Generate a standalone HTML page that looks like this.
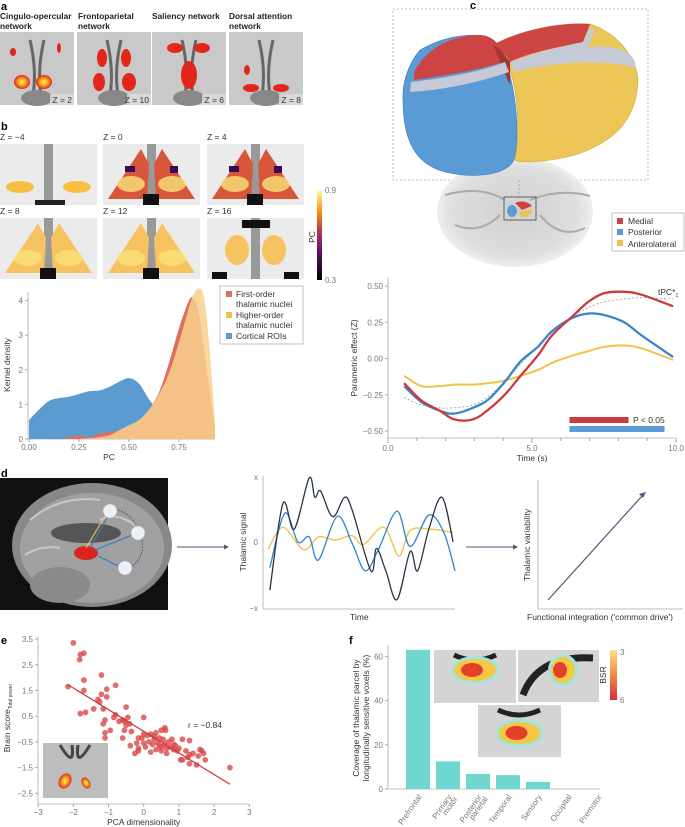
<!DOCTYPE html>
<html><head><meta charset="utf-8">
<style>
html,body{margin:0;padding:0;background:#fff;}
svg{display:block;font-family:"Liberation Sans",sans-serif;}
.t{font-size:8px;fill:#777;}
.lab{font-size:8.5px;fill:#333;}
.pl{font-size:11px;font-weight:bold;fill:#000;}
.ttl{font-size:8.3px;font-weight:bold;fill:#222;}
</style></head><body>
<svg id="fig" width="685" height="827" viewBox="0 0 685 827" xmlns="http://www.w3.org/2000/svg">
<defs>
<linearGradient id="pcbar" x1="0" y1="1" x2="0" y2="0"><stop offset="0" stop-color="#000004"/><stop offset="0.3" stop-color="#56106e"/><stop offset="0.55" stop-color="#bb3754"/><stop offset="0.75" stop-color="#f98e09"/><stop offset="1" stop-color="#fcffa4"/></linearGradient>
<linearGradient id="bsr" x1="0" y1="0" x2="0" y2="1"><stop offset="0" stop-color="#fde08a"/><stop offset="0.5" stop-color="#f08a40"/><stop offset="1" stop-color="#d9303a"/></linearGradient>
<radialGradient id="hot"><stop offset="0" stop-color="#fff36a"/><stop offset="0.5" stop-color="#f7a21c"/><stop offset="1" stop-color="#e3261b"/></radialGradient>
<radialGradient id="brain"><stop offset="0" stop-color="#d0d0d0"/><stop offset="0.8" stop-color="#dedede"/><stop offset="1" stop-color="#eeeeee"/></radialGradient>
</defs>

<!-- Panel a -->
<g>
<text class="pl" x="1" y="10">a</text>
<text class="ttl" x="0" y="19">Cingulo-opercular</text>
<text class="ttl" x="0" y="29">network</text>
<text class="ttl" x="78" y="19">Frontoparietal</text>
<text class="ttl" x="78" y="29">network</text>
<text class="ttl" x="152" y="19">Saliency network</text>
<text class="ttl" x="229" y="19">Dorsal attention</text>
<text class="ttl" x="229" y="29">network</text>
<g id="aimgs"></g>
</g>

<!-- Panel b -->
<g>
<text class="pl" x="1" y="130">b</text>
<g id="bimgs"></g>
<rect x="317" y="190" width="5" height="90" fill="url(#pcbar)"/>
<text class="t" x="325" y="193">0.9</text><text class="t" x="325" y="283">0.3</text>
<text class="lab" transform="translate(315,237) rotate(-90)" text-anchor="middle">PC</text>
<g id="density"></g>
</g>

<!-- Panel c -->
<g>
<text class="pl" x="470" y="9">c</text>
<rect x="393" y="9" width="255" height="171" fill="none" stroke="#aaa" stroke-dasharray="2,2" stroke-width="0.8"/>
<ellipse cx="515" cy="212" rx="78" ry="55" fill="url(#brain)"/>
<path d="M445,195 Q480,185 505,200 M530,200 Q560,188 590,196 M455,225 Q480,235 500,215 M540,215 Q560,240 585,228" stroke="#aaa" stroke-width="2" fill="none"/>
<line x1="519" y1="180" x2="519" y2="197" stroke="#999" stroke-dasharray="2,2" stroke-width="0.8"/>
<rect x="504" y="197" width="32" height="23" fill="none" stroke="#444" stroke-width="0.8"/>
<ellipse cx="512" cy="211" rx="5" ry="6" fill="#5b9bd5"/>
<path d="M515,203 Q525,199 532,206 L522,210 Z" fill="#cc4040"/>
<path d="M519,212 L533,209 Q530,218 521,217 Z" fill="#ecc34e"/>
<g>
<path d="M403,100 C402,80 410,62 420,50 C440,38 465,33 485,36 C500,40 505,55 510,75 C516,100 520,135 514,160 C505,177 470,178 445,172 C415,164 403,140 403,100 Z" fill="#5b9bd5" stroke="#3a7ab8" stroke-width="0.6"/>
<path d="M493,45 C520,30 560,22 590,24 C615,32 636,55 638,80 C637,115 620,140 575,155 C545,163 520,163 515,160 C520,130 518,95 510,70 Z" fill="#ecc34e" stroke="#c9a030" stroke-width="0.6" opacity="0.95"/>
<path d="M414,72 C425,50 450,35 480,35 C497,36 502,50 503,62 C480,70 448,75 414,80 Z" fill="#cc4444"/>
<path d="M493,45 C520,30 560,22 590,24 L583,42 C560,47 530,52 510,62 C507,55 500,50 493,45 Z" fill="#cc4444"/>
<path d="M493,45 C500,48 505,55 510,62 L510,85 C505,75 500,60 493,45 Z" fill="#a33535"/>
<path d="M411,82 C445,78 480,72 505,62 L509,72 C480,82 445,90 410,92 Z" fill="#c6cad6"/>
<path d="M510,62 C535,52 560,47 583,42 L590,28 L595,30 L588,47 C610,45 630,48 635,62 L636,68 C610,60 560,60 515,72 Z" fill="#c6cad6"/>
</g>
<rect x="612" y="213" width="72" height="38" fill="#fff" stroke="#999" stroke-width="0.6"/>
<rect x="617" y="218" width="6" height="6" fill="#cc4444"/><text class="lab" x="628" y="224">Medial</text>
<rect x="617" y="229" width="6" height="6" fill="#5b9bd5"/><text class="lab" x="628" y="235">Posterior</text>
<rect x="617" y="240" width="6" height="6" fill="#ecc34e"/><text class="lab" x="628" y="247">Anterolateral</text>
<g id="cline"></g>
</g>

<!-- Panel d -->
<g>
<text class="pl" x="1" y="477">d</text>
<rect x="0" y="478" width="168" height="132" fill="#111"/>
<ellipse cx="92" cy="545" rx="80" ry="62" fill="#888"/>
<ellipse cx="92" cy="548" rx="72" ry="55" fill="#a0a0a0"/>
<ellipse cx="86" cy="533" rx="35" ry="10" fill="#555"/>
<ellipse cx="60" cy="585" rx="30" ry="18" fill="#8a8a8a"/>
<path d="M30,520 Q60,495 100,500 M25,555 Q40,545 60,548 M100,520 Q120,510 140,530" stroke="#c8c8c8" stroke-width="2" fill="none"/>
<ellipse cx="86" cy="553" rx="12" ry="7" fill="#d9241c"/>
<g stroke="#2f7fc4" stroke-width="1.2"><line x1="90" y1="548" x2="108" y2="516"/><line x1="95" y1="550" x2="132" y2="535"/><line x1="98" y1="556" x2="118" y2="566"/></g>
<line x1="86" y1="548" x2="105" y2="516" stroke="#f0c040" stroke-width="1.2"/>
<path d="M118,510 Q132,515 136,526 M142,540 Q145,558 130,568" stroke="#50628c" stroke-width="1" fill="none" stroke-dasharray="2,1"/>
<circle cx="110" cy="511" r="7" fill="#eef0f8" stroke="#aab" stroke-width="0.6"/>
<circle cx="138" cy="533" r="7" fill="#eef0f8" stroke="#aab" stroke-width="0.6"/>
<circle cx="125" cy="568" r="7" fill="#eef0f8" stroke="#aab" stroke-width="0.6"/>
<line x1="177" y1="547" x2="226" y2="547" stroke="#4a5a78" stroke-width="1"/><path d="M229,547 l-5,-2.5 v5z" fill="#4a5a78"/>
<line x1="466" y1="547" x2="514" y2="547" stroke="#4a5a78" stroke-width="1"/><path d="M518,547 l-5,-2.5 v5z" fill="#4a5a78"/>
<g id="dsig"></g>
<line x1="538" y1="480" x2="538" y2="609" stroke="#aaa" stroke-width="0.8"/>
<line x1="538" y1="609" x2="683" y2="609" stroke="#aaa" stroke-width="0.8"/>
<text class="lab" transform="translate(530,545) rotate(-90)" text-anchor="middle">Thalamic variability</text>
<text class="lab" x="527" y="620">Functional integration ('common drive')</text>
<line x1="548" y1="600" x2="642" y2="496" stroke="#4a5a78" stroke-width="1.2"/><path d="M646,492 l-7,2 l4,4z" fill="#4a5a78"/>
</g>

<!-- Panel e -->
<g>
<text class="pl" x="1" y="644">e</text>
<g id="scatter"></g>
</g>

<!-- Panel f -->
<g>
<text class="pl" x="349" y="644">f</text>
<g id="bars"></g>
<rect x="610" y="650" width="7" height="50" fill="url(#bsr)"/>
<text class="t" x="620" y="655">3</text><text class="t" x="620" y="703">6</text>
<text class="lab" transform="translate(606,675) rotate(-90)" text-anchor="middle">BSR</text>
</g>
</svg>
<script>
const NS='http://www.w3.org/2000/svg';
function mk(p,tag,at){const e=document.createElementNS(NS,tag);for(const k in at)e.setAttribute(k,at[k]);p.appendChild(e);return e;}
function txt(p,x,y,s,cls,anchor){const e=mk(p,'text',{x:x,y:y,class:cls||'t'});if(anchor)e.setAttribute('text-anchor',anchor);e.textContent=s;return e;}
function smooth(pts){let d='M'+pts[0][0]+','+pts[0][1];for(let i=0;i<pts.length-1;i++){const p0=pts[Math.max(0,i-1)],p1=pts[i],p2=pts[i+1],p3=pts[Math.min(pts.length-1,i+2)];d+=' C'+(p1[0]+(p2[0]-p0[0])/6)+','+(p1[1]+(p2[1]-p0[1])/6)+' '+(p2[0]-(p3[0]-p1[0])/6)+','+(p2[1]-(p3[1]-p1[1])/6)+' '+p2[0]+','+p2[1];}return d;}

/* ---------- panel a images ---------- */
const aImgX=[0,77,152,229], aZ=['Z = 2','Z = 10','Z = 6','Z = 8'];
const ga=document.getElementById('aimgs');
aImgX.forEach((x,i)=>{
 const g=mk(ga,'g',{});
 
 
 mk(g,'rect',{x:x,y:32,width:74,height:73,fill:'#c9c9c9'});
 mk(g,'path',{d:`M${x+30},40 Q${x+37},70 ${x+33},95 M${x+44},40 Q${x+37},70 ${x+41},95`,stroke:'#666','stroke-width':3,fill:'none'});
 mk(g,'ellipse',{cx:x+37,cy:98,rx:16,ry:8,fill:'#888'});
 const blobs=[[[x+22,82,8,7],[x+44,82,8,7],[x+13,52,3,4],[x+59,48,2,5]],[[x+25,58,5,9],[x+49,58,5,9],[x+22,82,6,9],[x+52,82,7,9]],[[x+23,48,8,5],[x+50,48,8,5],[x+37,75,8,14]],[[x+18,70,3,5],[x+22,88,8,4],[x+52,88,8,4]]][i];
 blobs.forEach(b=>mk(g,'ellipse',{cx:b[0],cy:b[1],rx:b[2],ry:b[3],fill:(i==0&&b[2]>6)?'url(#hot)':'#e3261b'}));
 mk(g,'rect',{x:x+50,y:94,width:24,height:11,fill:'#ddd',opacity:0.8});
 txt(g,x+72,103,aZ[i],'lab','end');
});

/* ---------- panel b images ---------- */
const bImgX=[0,103,207], bImgY=[144,218], bZ=['Z = −4','Z = 0','Z = 4','Z = 8','Z = 12','Z = 16'];
const gb=document.getElementById('bimgs');
bZ.forEach((z,i)=>{
 const x=bImgX[i%3], y=bImgY[Math.floor(i/3)];
 const g=mk(gb,'g',{});
 
 
 txt(g,x,y-4,z,'lab');
 mk(g,'rect',{x:x,y:y,width:97,height:61,fill:'#ebebeb'});
 mk(g,'rect',{x:x+44,y:y,width:9,height:61,fill:'#999'});
 if(i===0){mk(g,'ellipse',{cx:x+20,cy:y+43,rx:14,ry:6,fill:'#f8c040'});mk(g,'ellipse',{cx:x+77,cy:y+43,rx:14,ry:6,fill:'#f8c040'});mk(g,'rect',{x:x+35,y:y+56,width:30,height:5,fill:'#222'});}
 else if(i<5){const c=i<3?'#d8563a':'#f6c360';
  mk(g,'path',{d:`M${x+5},${y+55} L${x+38},${y+5} L${x+46},${y+20} L${x+44},${y+55} Z`,fill:c});
  mk(g,'path',{d:`M${x+92},${y+55} L${x+59},${y+5} L${x+51},${y+20} L${x+53},${y+55} Z`,fill:c});
  mk(g,'ellipse',{cx:x+28,cy:y+40,rx:14,ry:8,fill:'#fbe27a',opacity:0.8});mk(g,'ellipse',{cx:x+69,cy:y+40,rx:14,ry:8,fill:'#fbe27a',opacity:0.8});
  if(i<3){mk(g,'rect',{x:x+22,y:y+22,width:10,height:6,fill:'#3a0a50'});mk(g,'rect',{x:x+67,y:y+22,width:8,height:7,fill:'#3a0a50'});}
  mk(g,'rect',{x:x+40,y:y+50,width:16,height:11,fill:'#111'});}
 else{mk(g,'ellipse',{cx:x+30,cy:y+32,rx:12,ry:15,fill:'#f6c360'});mk(g,'ellipse',{cx:x+67,cy:y+32,rx:12,ry:15,fill:'#f6c360'});mk(g,'rect',{x:x+35,y:y+2,width:28,height:8,fill:'#111'});mk(g,'rect',{x:x+5,y:y+54,width:15,height:7,fill:'#111'});mk(g,'rect',{x:x+77,y:y+54,width:15,height:7,fill:'#111'});}
});

/* ---------- panel b density ---------- */
const pcGrid=[0,0.05,0.1,0.15,0.2,0.25,0.3,0.35,0.4,0.45,0.5,0.55,0.6,0.65,0.7,0.75,0.8,0.825,0.85,0.875,0.9,0.93];
const densCortical=[0.55,0.85,1.1,1.18,1.22,1.3,1.38,1.4,1.5,1.65,1.76,1.6,1.15,0.8,0.55,0.35,0.15,0.1,0.05,0.03,0.01,0];
const densFirst=[0,0,0,0,0.05,0.1,0.05,0.15,0.2,0.25,0.35,0.5,0.85,1.35,2.2,3.2,4.0,4.05,3.6,2.6,1.5,0.3];
const densHigher=[0,0,0,0,0,0,0.02,0.05,0.1,0.25,0.4,0.55,0.85,1.3,1.9,2.8,3.8,4.2,4.35,4.1,2.8,0.5];
const densXTicks=[0,0.25,0.5,0.75], densXTickLabels=['0.00','0.25','0.50','0.75'];
const densYTicks=[0,1,2,3,4];
(function(){
 const g=document.getElementById('density');
 const X=v=>29+v*200, Y=v=>439-v*34.6;
 mk(g,'line',{x1:28,y1:292,x2:28,y2:439,stroke:'#aaa','stroke-width':0.8});
 mk(g,'line',{x1:28,y1:439,x2:X(0.93),y2:439,stroke:'#aaa','stroke-width':0.8});
 densYTicks.forEach(v=>{mk(g,'line',{x1:25,y1:Y(v),x2:28,y2:Y(v),stroke:'#aaa'});txt(g,23,Y(v)+3,String(v),'t','end');});
 densXTicks.forEach((v,i)=>{mk(g,'line',{x1:X(v),y1:439,x2:X(v),y2:442,stroke:'#aaa'});txt(g,X(v),450,densXTickLabels[i],'t','middle');});
 txt(g,X(0.5)-20,460,'PC','lab','middle');
 const yl=txt(g,0,0,'Kernel density','lab','middle');yl.setAttribute('transform','translate(10,365) rotate(-90)');
 function area(vals,fill,op,name){const pts=pcGrid.map((p,i)=>[X(p),Y(vals[i])]);const d=smooth(pts)+` L${X(0.93)},${Y(0)} L${X(0)},${Y(0)} Z`;const e=mk(g,'path',{d:d,fill:fill,opacity:op});}
 area(densCortical,'#5b9bd0',1,'density-cortical');
 area(densFirst,'#de6f5f',1,'density-first-order');
 area(densHigher,'#f8d08e',0.85,'density-higher-order');
 const lg=mk(g,'g',{});
 mk(lg,'rect',{x:220,y:286,width:83,height:58,fill:'#fff',stroke:'#999','stroke-width':0.6});
 mk(lg,'rect',{x:226,y:291,width:6,height:6,fill:'#de6f5f'});txt(lg,236,297,'First-order','lab');txt(lg,236,307,'thalamic nuclei','lab');
 mk(lg,'rect',{x:226,y:312,width:6,height:6,fill:'#f0c040'});txt(lg,236,318,'Higher-order','lab');txt(lg,236,328,'thalamic nuclei','lab');
 mk(lg,'rect',{x:226,y:333,width:6,height:6,fill:'#5b9bd0'});txt(lg,236,339,'Cortical ROIs','lab');
})();

/* ---------- panel c line chart ---------- */
const cTime=[0.56,1.16,1.8,2.3,2.95,3.5,4.1,4.6,5.2,5.7,6.4,6.95,7.5,8.2,8.8,9.9];
const cMedial=[-0.17,-0.29,-0.36,-0.42,-0.42,-0.35,-0.24,-0.12,0.02,0.16,0.29,0.39,0.45,0.46,0.44,0.36];
const cPosterior=[-0.19,-0.30,-0.36,-0.38,-0.34,-0.28,-0.15,-0.02,0.08,0.19,0.28,0.31,0.30,0.25,0.16,0.01];
const cAnterolateral=[-0.12,-0.19,-0.19,-0.18,-0.18,-0.17,-0.15,-0.12,-0.08,-0.03,0.02,0.05,0.08,0.09,0.07,-0.01];
const cTpc=[-0.27,-0.32,-0.34,-0.34,-0.32,-0.26,-0.15,-0.04,0.08,0.18,0.29,0.35,0.39,0.41,0.42,0.41];
const cYTicks=[0.5,0.25,0,-0.25,-0.5], cYTickLabels=['0.50','0.25','0.00','−0.25','−0.50'];
const cXTicks=[0,5,10], cXTickLabels=['0.0','5.0','10.0'];
const cSigMedial=[6.3,8.35], cSigPosterior=[6.3,9.6];
(function(){
 const g=document.getElementById('cline');
 const X=t=>388+t*28.8, Y=v=>358.5-v*145;
 mk(g,'line',{x1:388,y1:278,x2:388,y2:438,stroke:'#aaa','stroke-width':0.8});
 mk(g,'line',{x1:388,y1:438,x2:676,y2:438,stroke:'#aaa','stroke-width':0.8});
 cYTicks.forEach((v,i)=>{mk(g,'line',{x1:385,y1:Y(v),x2:388,y2:Y(v),stroke:'#aaa'});txt(g,383,Y(v)+3,cYTickLabels[i],'t','end');});
 for(let t=0;t<=10;t+=1){mk(g,'line',{x1:X(t),y1:438,x2:X(t),y2:t%5==0?443:441,stroke:'#aaa'});}
 cXTicks.forEach((v,i)=>txt(g,X(v),451,cXTickLabels[i],'t','middle'));
 txt(g,X(5),461,'Time (s)','lab','middle');
 const yl=txt(g,0,0,'Parametric effect (Z)','lab','middle');yl.setAttribute('transform','translate(357,358) rotate(-90)');
 function line(vals,col,w,dash,name){const e=mk(g,'path',{d:smooth(cTime.map((t,i)=>[X(t),Y(vals[i])])),stroke:col,'stroke-width':w,fill:'none'});if(dash)e.setAttribute('stroke-dasharray',dash);}
 line(cTpc,'#999',0.8,'2,2','tpc-line');
 line(cAnterolateral,'#efc24a',2,null,'anterolateral-line');
 line(cPosterior,'#3a86c8',2.3,null,'posterior-line');
 line(cMedial,'#cc3b3b',2.3,null,'medial-line');
 const t=txt(g,658,295,'tPC*','lab');mk(t,'tspan',{'font-size':'5',dy:'2'}).textContent='1';
 const r1=mk(g,'rect',{x:X(cSigMedial[0]),y:417,width:X(cSigMedial[1])-X(cSigMedial[0]),height:6,fill:'#cc3b3b'});
 const r2=mk(g,'rect',{x:X(cSigPosterior[0]),y:426,width:X(cSigPosterior[1])-X(cSigPosterior[0]),height:6,fill:'#5b9bd5'});
 txt(g,633,423,'P < 0.05','lab');
})();

/* ---------- panel d signals ---------- */
const sigBlackT=[0.01,0.08,0.14,0.22,0.25,0.28,0.33,0.36,0.41,0.45,0.55,0.58,0.63,0.69,0.76,0.8,0.86,0.93,0.99];
const sigBlack=[-0.75,0.6,0.2,1.0,0.7,0.8,0.45,0.42,0.7,0.5,-0.45,-0.1,-0.45,-0.9,-0.15,-0.45,0.2,0.7,0.0];
const sigBlueT=[0.01,0.09,0.16,0.22,0.27,0.37,0.45,0.52,0.59,0.69,0.76,0.86,0.94,1.0];
const sigBlue=[-0.4,0.45,0.0,0.08,-0.28,0.4,-0.02,-0.45,-0.12,0.48,-0.07,0.42,0.15,-0.45];
const sigYellowT=[0,0.08,0.19,0.27,0.36,0.45,0.51,0.62,0.7,0.76,0.87,0.99];
const sigYellow=[-0.12,0.23,-0.12,0.08,0.03,0.1,-0.04,0.23,-0.22,0.18,0.2,0.15];
(function(){
 const g=document.getElementById('dsig');
 const X=t=>268+t*187, Y=v=>542-v*64;
 mk(g,'line',{x1:263,y1:476,x2:263,y2:609,stroke:'#aaa','stroke-width':0.8});
 mk(g,'line',{x1:263,y1:609,x2:455,y2:609,stroke:'#aaa','stroke-width':0.8});
 txt(g,258,480,'x','t','end');txt(g,258,545,'0','t','end');txt(g,258,611,'−x','t','end');
 const yl=txt(g,0,0,'Thalamic signal','lab','middle');yl.setAttribute('transform','translate(246,542) rotate(-90)');
 txt(g,350,620,'Time','lab');
 function line(ts,vals,col,name){const e=mk(g,'path',{d:smooth(ts.map((t,i)=>[X(t),Y(vals[i])])),stroke:col,'stroke-width':1.3,fill:'none'});}
 line(sigYellowT,sigYellow,'#f0c040','signal-yellow');
 line(sigBlueT,sigBlue,'#2f85c8','signal-blue');
 line(sigBlackT,sigBlack,'#2b3445','signal-black');
})();

/* ---------- panel e scatter ---------- */
const scX=[-2.0,-1.8,-1.82,-1.7,-1.2,-1.7,-1.7,-2.15,-1.05,-0.8,-1.2,-1.05,-1.3,-1.25,-1.8,-1.65,-1.42,-1.15,-0.5,-0.8,-0.85,-0.7,-0.45,-0.6,-0.55,-1.1,-1.15,-0.5,-0.4,0.0,-0.95,-0.55,-0.35,-1.1,-1.1,-0.6,-0.38,0.0,-0.15,0.1,0.2,0.35,0.5,0.6,0.62,0.3,0.45,0.55,0.15,-0.2,0.0,0.25,0.4,0.5,0.6,0.65,0.8,0.85,0.75,0.9,0.35,0.5,0.05,-0.15,-0.25,-0.15,0.2,0.65,0.85,0.95,1.0,1.1,1.3,1.2,1.3,1.4,1.05,1.1,1.25,1.6,1.65,1.7,1.55,1.75,1.3,1.5,2.45,0.45,0.3,-0.05,0.7];
const scY=[3.35,2.9,2.7,2.95,2.1,1.9,1.5,1.65,1.55,1.7,1.35,1.25,1.15,1.05,0.6,0.65,0.78,0.78,0.85,0.55,0.45,0.3,0.45,0.35,0.3,0.35,0.2,0.15,0.2,0.45,-0.05,-0.05,-0.1,-0.15,-0.35,-0.35,-0.65,-0.2,-0.35,-0.25,-0.2,-0.15,-0.05,0.05,-0.05,-0.4,-0.35,-0.4,-0.5,-0.55,-0.55,-0.6,-0.55,-0.7,-0.6,-0.75,-0.4,-0.6,-0.7,-0.65,-0.8,-0.85,-0.7,-0.75,-0.95,-0.85,-0.9,-0.95,-0.8,-0.85,-0.75,-0.4,-0.45,-0.85,-1.0,-0.95,-1.2,-1.2,-1.1,-0.8,-0.85,-0.95,-1.05,-1.2,-1.35,-1.4,-1.5,-0.65,-0.3,-0.35,-0.5];
const fitX=[-2.15,2.45], fitY=[1.72,-2.15];
const eXTicks=[-3,-2,-1,0,1,2,3], eXTickLabels=['−3','−2','−1','0','1','2','3'];
const eYTicks=[3.5,2.5,1.5,0.5,-0.5,-1.5,-2.5], eYTickLabels=['3.5','2.5','1.5','0.5','−0.5','−1.5','−2.5'];
(function(){
 const g=document.getElementById('scatter');
 const X=v=>143.7+v*35.2, Y=v=>729-v*25.7;
 mk(g,'line',{x1:38,y1:636,x2:38,y2:804,stroke:'#aaa','stroke-width':0.8});
 mk(g,'line',{x1:38,y1:804,x2:249,y2:804,stroke:'#aaa','stroke-width':0.8});
 eYTicks.forEach((v,i)=>{mk(g,'line',{x1:35,y1:Y(v),x2:38,y2:Y(v),stroke:'#aaa'});txt(g,33,Y(v)+3,eYTickLabels[i],'t','end');});
 eXTicks.forEach((v,i)=>{mk(g,'line',{x1:X(v),y1:804,x2:X(v),y2:807,stroke:'#aaa'});txt(g,X(v),815,eXTickLabels[i],'t','middle');});
 txt(g,X(0),825,'PCA dimensionality','lab','middle');
 const yl=txt(g,0,0,'Brain score','lab','middle');yl.setAttribute('transform','translate(10,718) rotate(-90)');
 const ts=mk(yl,'tspan',{'font-size':'5',dy:'2'});ts.textContent='Total power';
 const ins=mk(g,'g',{});
 mk(ins,'rect',{x:43,y:743,width:65,height:55,fill:'#bdbdbd'});
 mk(ins,'path',{d:'M60,745 Q75,770 72,745 M90,745 Q75,770 78,745',stroke:'#444','stroke-width':3,fill:'none'});
 mk(ins,'ellipse',{cx:65,cy:781,rx:6,ry:8,fill:'url(#hot)',transform:'rotate(30 65 781)'});
 mk(ins,'ellipse',{cx:86,cy:783,rx:4,ry:6,fill:'url(#hot)',transform:'rotate(-30 86 783)'});
 scX.forEach((x,i)=>{const c=mk(g,'circle',{cx:X(x),cy:Y(scY[i]),r:2.9,fill:'#d9484a',opacity:0.8});});
 const fl=mk(g,'line',{x1:X(fitX[0]),y1:Y(fitY[0]),x2:X(fitX[1]),y2:Y(fitY[1]),stroke:'#c93434','stroke-width':1.2});
 const r=txt(g,188,728,'r = −0.84','lab');r.setAttribute('font-size','9');
})();

/* ---------- panel f bars ---------- */
const fCats=['Prefrontal','Primary motor','Posterior parietal','Temporal','Sensory','Occipital','Premotor'];
const fVals=[63,12.5,6.8,6.3,3.2,0,0];
const fYTicks=[0,20,40,60];
(function(){
 const g=document.getElementById('bars');
 const Y=v=>789-v*2.21, bx=i=>406+i*30;
 mk(g,'line',{x1:388,y1:645,x2:388,y2:789,stroke:'#aaa','stroke-width':0.8});
 mk(g,'line',{x1:388,y1:789,x2:600,y2:789,stroke:'#aaa','stroke-width':0.8});
 fYTicks.forEach(v=>{mk(g,'line',{x1:385,y1:Y(v),x2:388,y2:Y(v),stroke:'#aaa'});txt(g,383,Y(v)+3,String(v),'t','end');});
 const yl=txt(g,0,0,'Coverage of thalamic parcel by','lab','middle');yl.setAttribute('transform','translate(359,718) rotate(-90)');
 const yl2=txt(g,0,0,'longitudinally sensitive voxels (%)','lab','middle');yl2.setAttribute('transform','translate(369,718) rotate(-90)');
 fVals.forEach((v,i)=>{const r=mk(g,'rect',{x:bx(i),y:Y(v),width:24,height:v*2.21,fill:'#6fd6d0'});
  const parts=fCats[i].split(' ');parts.forEach((p,j)=>{const t=txt(g,0,0,p,'t','end');t.setAttribute('transform',`translate(${bx(i)+16+j*6},${797+j*2}) rotate(-55)`);});});
 const imgs=[[434,650,82,53],[518,650,81,52],[478,705,83,52]];
 imgs.forEach((m,i)=>{const ig=mk(g,'g',{});
  mk(ig,'rect',{x:m[0],y:m[1],width:m[2],height:m[3],fill:'#d4d4d4'});
  if(i==1){mk(ig,'path',{d:`M${m[0]+5},${m[1]+45} Q${m[0]+20},${m[1]+5} ${m[0]+75},${m[1]+8}`,stroke:'#222','stroke-width':7,fill:'none'});}
  else{mk(ig,'path',{d:`M${m[0]+20},${m[1]+5} Q${m[0]+41},${m[1]+15} ${m[0]+62},${m[1]+5}`,stroke:'#222','stroke-width':5,fill:'none'});}
  const cx=i==1?m[0]+45:m[0]+m[2]/2, cy=i==2?m[1]+28:m[1]+20;
  mk(ig,'ellipse',{cx:cx,cy:cy,rx:i==1?15:24,ry:i==1?16:14,fill:'#9ee6e0'});
  mk(ig,'ellipse',{cx:cx,cy:cy,rx:i==1?12:21,ry:i==1?13:11,fill:'#f7c642'});
  mk(ig,'ellipse',{cx:cx-3,cy:cy,rx:i==1?7:11,ry:i==1?8:7,fill:'#e2402c'});
 });
})();
</script>
</body></html>
